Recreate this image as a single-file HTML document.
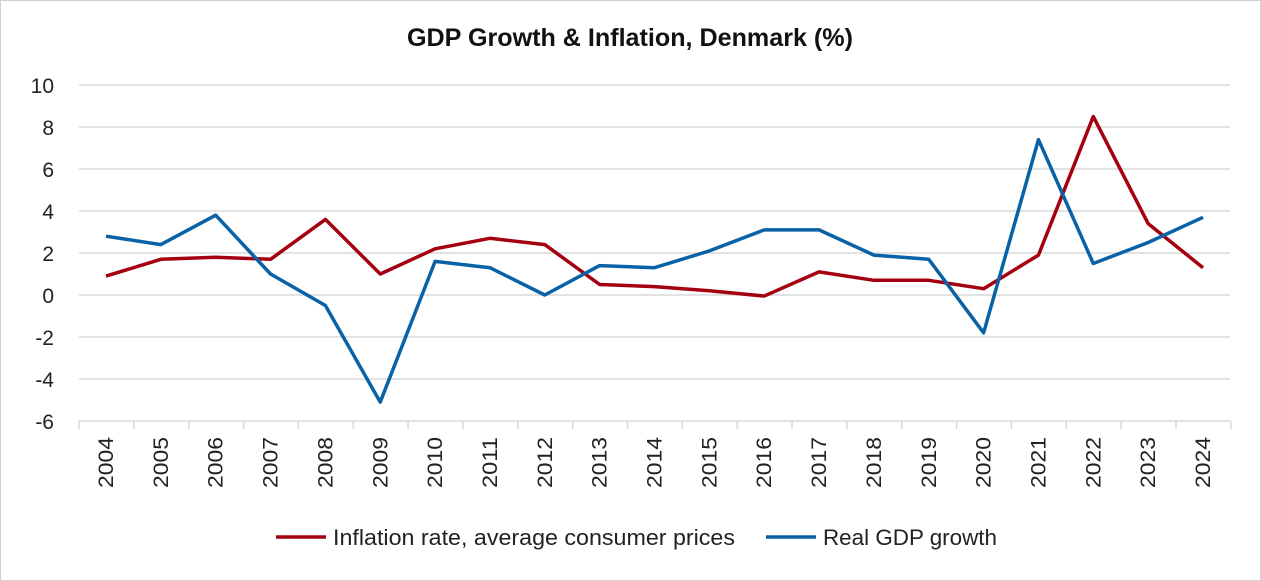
<!DOCTYPE html>
<html><head><meta charset="utf-8"><style>
body{margin:0;background:#fff}
svg{display:block;font-family:"Liberation Sans",sans-serif}
</style></head><body>
<svg width="1261" height="581" viewBox="0 0 1261 581">
<rect x="0.5" y="0.5" width="1260" height="580" fill="#fff" stroke="#d0d0d0"/>
<text x="407" y="46" font-size="25" font-weight="bold" fill="#111" textLength="446" lengthAdjust="spacingAndGlyphs">GDP Growth &amp; Inflation, Denmark (%)</text>
<g stroke="#d9d9d9" stroke-width="1.5">
<line x1="79" x2="1230" y1="85" y2="85"/><line x1="79" x2="1230" y1="127" y2="127"/>
<line x1="79" x2="1230" y1="169" y2="169"/><line x1="79" x2="1230" y1="211" y2="211"/>
<line x1="79" x2="1230" y1="253" y2="253"/><line x1="79" x2="1230" y1="295" y2="295"/>
<line x1="79" x2="1230" y1="337" y2="337"/><line x1="79" x2="1230" y1="379" y2="379"/>
<line x1="79" x2="1230" y1="421" y2="421"/>
</g>
<g stroke="#d9d9d9" stroke-width="1.5" id="ticks"></g>
<g font-size="21" fill="#222" text-anchor="end">
<text x="54" y="93">10</text><text x="54" y="135">8</text><text x="54" y="177">6</text>
<text x="54" y="219">4</text><text x="54" y="261">2</text><text x="54" y="303">0</text>
<text x="54" y="345">-2</text><text x="54" y="387">-4</text><text x="54" y="429">-6</text>
</g>
<g id="xl" font-size="21" fill="#222"></g>
<polyline fill="none" stroke="#a50010" stroke-width="3.5" stroke-linejoin="round" id="inf"/>
<polyline fill="none" stroke="#0a62a6" stroke-width="3.5" stroke-linejoin="round" id="gdp"/>
<line x1="276" x2="326" y1="537" y2="537" stroke="#a50010" stroke-width="3.5"/>
<text x="333" y="545" font-size="22" fill="#222" textLength="402" lengthAdjust="spacingAndGlyphs">Inflation rate, average consumer prices</text>
<line x1="766" x2="816" y1="537" y2="537" stroke="#0a62a6" stroke-width="3.5"/>
<text x="823" y="545" font-size="22" fill="#222" textLength="174" lengthAdjust="spacingAndGlyphs">Real GDP growth</text>
<script>
var inf=[0.9,1.7,1.8,1.7,3.6,1.0,2.2,2.7,2.4,0.5,0.4,0.2,-0.05,1.1,0.7,0.7,0.3,1.9,8.5,3.4,1.3];
var gdp=[2.8,2.4,3.8,1.0,-0.5,-5.1,1.6,1.3,0.0,1.4,1.3,2.1,3.1,3.1,1.9,1.7,-1.8,7.4,1.5,2.5,3.7];
var ns="http://www.w3.org/2000/svg";
function px(i){return 106+54.85*i}
function py(v){return 295-21*v}
document.getElementById('inf').setAttribute('points',inf.map((v,i)=>px(i)+','+py(v)).join(' '));
document.getElementById('gdp').setAttribute('points',gdp.map((v,i)=>px(i)+','+py(v)).join(' '));
var t=document.getElementById('ticks');
for(var k=0;k<=21;k++){var l=document.createElementNS(ns,'line');var x=79+54.85*k;
l.setAttribute('x1',x);l.setAttribute('x2',x);l.setAttribute('y1',421);l.setAttribute('y2',429);t.appendChild(l);}
var g=document.getElementById('xl');
for(var i=0;i<21;i++){var e=document.createElementNS(ns,'text');var x=px(i)+7;
e.setAttribute('x',x);e.setAttribute('y',437);e.setAttribute('text-anchor','end');
e.setAttribute('textLength','51');e.setAttribute('lengthAdjust','spacingAndGlyphs');
e.setAttribute('transform','rotate(-90 '+x+' 437)');e.textContent=2004+i;g.appendChild(e);}
</script>
</svg>
</body></html>
